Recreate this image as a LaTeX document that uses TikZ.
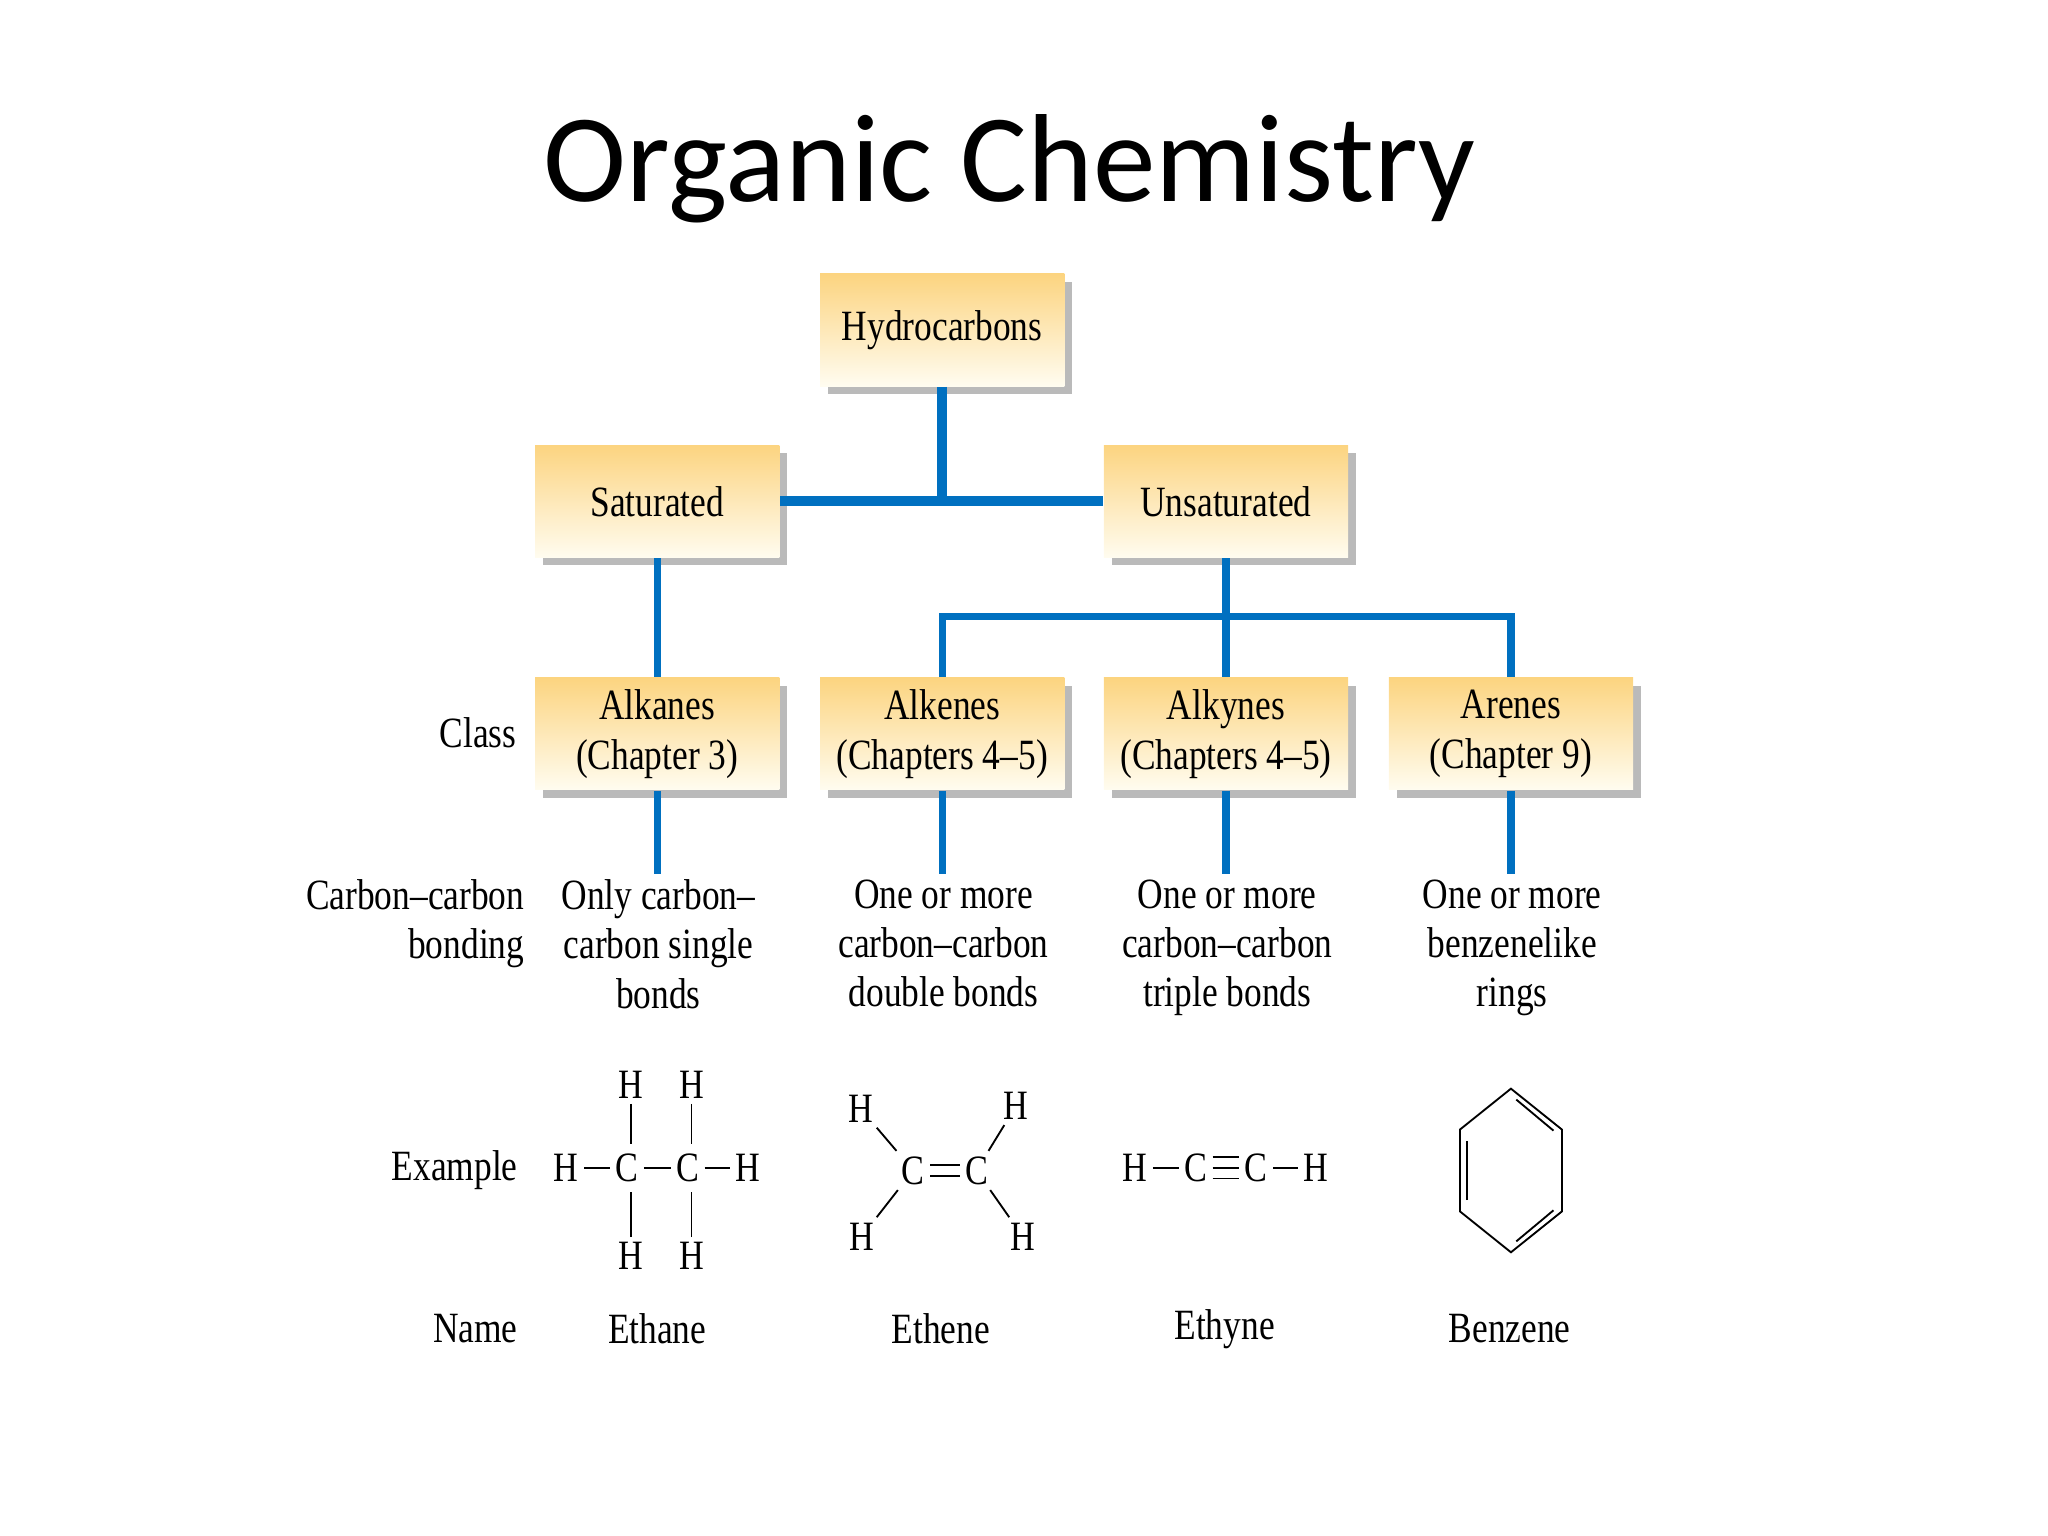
\documentclass[tikz,border=0pt]{standalone}
\usepackage{fontspec}
\setmainfont{Liberation Serif}[FakeStretch=0.82]
\newfontfamily\titlefont{Carlito}
\usetikzlibrary{shadows,calc}
\definecolor{boxtop}{RGB}{252,212,128}
\definecolor{boxbot}{RGB}{255,252,240}
\definecolor{lineblue}{RGB}{0,112,192}
\begin{document}
\begin{tikzpicture}[x=0.01cm,y=-0.01cm,
  box/.style={minimum width=1.85cm,minimum height=0.85cm,top color=boxtop,bottom color=boxbot,draw=none,
    drop shadow={shadow xshift=0.06cm,shadow yshift=-0.06cm,fill=black!45,opacity=0.6},align=center,font=\fontsize{9.3}{10.8}\selectfont,inner sep=0pt},
  thick line/.style={draw=lineblue,line width=0.075cm},
  med line/.style={draw=lineblue,line width=0.055cm},
  lbl/.style={font=\fontsize{9.3}{10.6}\selectfont,align=center,inner sep=0pt},
  chem/.style={font=\fontsize{9}{11}\selectfont,inner sep=1pt}]
\useasboundingbox (0,0) rectangle (1552,1164);
\node[font=\titlefont\fontsize{27}{32}\selectfont] (title) at (765,128) {Organic Chemistry};
\node[box] (hyd) at (714,250) {Hydrocarbons};
\node[box] (sat) at (498,380) {Saturated};
\node[box] (uns) at (929,380) {Unsaturated};
\node[box] (alka) at (498,556) {Alkanes\\(Chapter 3)};
\node[box] (alke) at (714,556) {Alkenes\\(Chapters 4--5)};
\node[box] (alky) at (929,556) {Alkynes\\(Chapters 4--5)};
\node[box] (are) at (1145,556) {Arenes\\(Chapter 9)};
\coordinate (j1) at (714,380);
\coordinate (j2) at (929,467);
\draw[thick line] (hyd.south) -- (j1);
\draw[thick line] (sat.east) -- (uns.west);
\draw[med line] (sat.south) -- (alka.north);
\draw[med line] (uns.south) -- (alka.north -| uns.south);
\draw[med line] (alke.north) |- (j2) -| (are.north);
\coordinate (ba) at (498,662);\coordinate (be) at (714,662);\coordinate (by) at (929,662);\coordinate (bz) at (1145,662);
\draw[med line] (alka.south) -- (ba);
\draw[med line] (alke.south) -- (be);
\draw[med line] (alky.south) -- (by);
\draw[med line] (are.south) -- (bz);
% row labels
\node[lbl,anchor=east] (cls) at (392,555) {Class};
\node[lbl,anchor=north east,align=right] (ccb) at (398,666) {Carbon--carbon\\bonding};
\node[lbl,anchor=east] (ex) at (393,887) {Example};
\node[lbl,anchor=east] (nm) at (393,1007) {Name};
\node[lbl,anchor=north] (t1) at (499,666) {Only carbon--\\carbon single\\bonds};
\node[lbl,anchor=north] (t2) at (715,666) {One or more\\carbon--carbon\\double bonds};
\node[lbl,anchor=north] (t3) at (930,666) {One or more\\carbon--carbon\\triple bonds};
\node[lbl,anchor=north] (t4) at (1146,666) {One or more\\benzenelike\\rings};
\node[lbl] (n1) at (498,1007) {Ethane};
\node[lbl] (n2) at (713,1007) {Ethene};
\node[lbl] (n3) at (928,1007) {Ethyne};
\node[lbl] (n4) at (1144,1007) {Benzene};
% ethane
\begin{scope}[every node/.style={chem}]
\node (eh1) at (429,885) {H}; \node (ec1) at (475,885) {C}; \node (ec2) at (521,885) {C}; \node (eh2) at (567,885) {H};
\node (eh3) at (478,822) {H}; \node (eh4) at (524,822) {H}; \node (eh5) at (478,952) {H}; \node (eh6) at (524,952) {H};
\draw[thin] (eh1) -- (ec1) -- (ec2) -- (eh2);
\draw[thin] (eh3.south) -- (eh3.south |- 0,867); \draw[thin] (eh4.south) -- (eh4.south |- 0,867);
\draw[thin] (eh5.north) -- (eh5.north |- 0,903); \draw[thin] (eh6.north) -- (eh6.north |- 0,903);
% ethene
\node (c1) at (692,887) {C}; \node (c2) at (740,887) {C};
\node (h1) at (652,840) {H}; \node (h2) at (770,838) {H}; \node (h3) at (653,937) {H}; \node (h4) at (775,937) {H};
\draw[thin,double,double distance=2pt] (c1) -- (c2);
\draw[thin] (h1) -- (c1); \draw[thin] (h3) -- (c1); \draw[thin] (h2) -- (c2); \draw[thin] (h4) -- (c2);
% ethyne
\node (yh1) at (860,885) {H}; \node (yc1) at (906,885) {C}; \node (yc2) at (952,885) {C}; \node (yh2) at (997,885) {H};
\draw[thin] (yh1) -- (yc1); \draw[thin] (yc2) -- (yh2);
\draw[thin] ([yshift=2.3pt]yc1.east) -- ([yshift=2.3pt]yc2.west);
\draw[thin] (yc1) -- (yc2);
\draw[thin] ([yshift=-2.3pt]yc1.east) -- ([yshift=-2.3pt]yc2.west);
\end{scope}
% benzene
\coordinate (bzc) at (1145,887);
\begin{scope}[shift={(bzc)},xscale=0.72]
\draw[thin] (90:62) -- (30:62) -- (-30:62) -- (-90:62) -- (-150:62) -- (150:62) -- cycle;
\draw[thin] ($(150:53)+(0,-4)$) -- ($(-150:53)+(0,4)$);
\draw[thin] (84:54) -- (34:54);
\draw[thin] (-34:54) -- (-84:54);
\end{scope}
\end{tikzpicture}
\end{document}
